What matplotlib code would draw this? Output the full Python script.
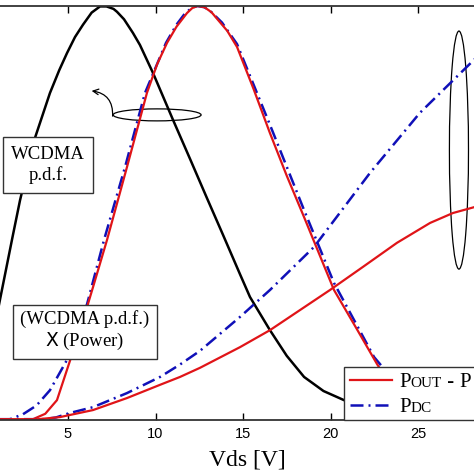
import matplotlib.pyplot as plt
from matplotlib.patches import Ellipse, Rectangle

# Datos (valores normalizados)
vds_wcdma = [0.6, 1.11, 1.83, 2.26, 3.11, 3.97, 4.5, 4.94, 5.4, 5.86, 6.35, 6.83, 7.2, 7.6, 7.8, 8.2, 8.71,
             9.11, 9.86, 11.0, 11.97, 12.94, 13.86, 14.83, 15.4, 16.54, 17.5, 18.49, 19.6, 20.77, 22.0, 23.5]
pdf_wcdma = [0.18, 0.29, 0.442, 0.531, 0.681, 0.79, 0.845, 0.886, 0.925, 0.955, 0.984, 0.999, 0.999, 0.993,
             0.986, 0.968, 0.935, 0.906, 0.838, 0.725, 0.631, 0.536, 0.447, 0.352, 0.297, 0.217, 0.155,
             0.104, 0.07, 0.048, 0.03, 0.02]

vds_pout_pdf = [1.0, 2.26, 3.0, 3.7, 4.37, 4.94, 5.69, 6.43, 7.23, 8.37, 9.51, 10.1, 10.66, 11.2, 11.8,
                12.1, 12.4, 12.8, 13.2, 13.6, 14.1, 14.66, 15.6, 16.54, 17.5, 18.49, 20.2, 21.5, 22.66,
                23.5, 24.5]
pout_pdf = [0.0, 0.0, 0.002, 0.015, 0.048, 0.121, 0.217, 0.321, 0.435, 0.611, 0.790, 0.86, 0.911, 0.95, 0.983,
            0.995, 1.0, 0.997, 0.985, 0.965, 0.94, 0.901, 0.80, 0.693, 0.59, 0.490, 0.314, 0.22, 0.135,
            0.08, 0.04]

vds_pdc_pdf = [1.0, 1.69, 2.43, 3.2, 3.97, 4.94, 6.09, 7.06, 8.26, 9.4, 10.6, 11.2, 11.7, 12.1, 12.4, 12.8,
               13.2, 13.8, 14.66, 16.54, 18.49, 20.2, 22.49, 22.83, 23.8, 24.8]
pdc_pdf = [0.0, 0.002, 0.014, 0.035, 0.072, 0.145, 0.280, 0.435, 0.611, 0.790, 0.911, 0.955, 0.983, 0.996,
           1.0, 0.997, 0.985, 0.96, 0.908, 0.713, 0.507, 0.331, 0.152, 0.135, 0.08, 0.04]

vds_pout = [0.5, 1.11, 3.3, 4.54, 6.43, 8.37, 10.26, 11.4, 12.54, 14.83, 16.54, 19.97, 21.86, 23.8,
            25.69, 27.0, 28.2, 30.0]
pout = [0.002, 0.002, 0.002, 0.007, 0.024, 0.053, 0.085, 0.104, 0.126, 0.176, 0.217, 0.314, 0.370,
        0.428, 0.476, 0.500, 0.514, 0.53]

vds_pdc = [0.5, 1.11, 3.6, 4.3, 5.11, 6.43, 8.37, 10.26, 11.4, 12.54, 14.83, 16.54, 19.06, 22.26,
           25.11, 28.2, 30.0]
pdc = [0.002, 0.002, 0.002, 0.006, 0.017, 0.031, 0.065, 0.104, 0.134, 0.167, 0.249, 0.314, 0.418,
       0.597, 0.742, 0.870, 0.94]

xticks = [5, 10, 15, 20, 25]

rojo = '#e01418'
azul = '#1010b8'
rayapunto = (5.2, 2, 0.8, 2)

fig = plt.figure(figsize=(4.74, 4.74), dpi=100)
ax = fig.add_axes([-19.5 / 474, 1 - 420 / 474, 525 / 474, 414 / 474])

ax.plot(vds_wcdma, pdf_wcdma, color='black', lw=1.8)
ax.plot(vds_pdc_pdf, pdc_pdf, color=azul, lw=1.8, dashes=rayapunto)
ax.plot(vds_pout_pdf, pout_pdf, color=rojo, lw=1.6)
ax.plot(vds_pdc, pdc, color=azul, lw=1.8, dashes=rayapunto)
ax.plot(vds_pout, pout, color=rojo, lw=1.6)

ax.set_xlim(0, 30)
ax.set_ylim(0, 1)
ax.set_xticks(xticks)
ax.set_yticks([])
ax.tick_params(axis='x', direction='in', top=True, length=5, width=1, pad=5, labelsize=10.5)
for lbl in ax.get_xticklabels():
    lbl.set_fontfamily('Liberation Sans')
for s in ['top', 'bottom']:
    ax.spines[s].set_linewidth(1.3)
    ax.spines[s].set_color('#333333')

ax.set_xlabel('Vds [V]', fontsize=17, family='Liberation Serif')
ax.xaxis.set_label_coords(0.508, -0.072)

# Elipses y flecha
ax.add_patch(Ellipse((10.09, 0.737), 5.03, 0.029, fill=False, lw=0.9, color='black'))
ax.add_patch(Ellipse((27.34, 0.652), 1.09, 0.575, fill=False, lw=0.9, color='black'))
ax.annotate('', xy=(6.35, 0.795), xytext=(7.55, 0.734),
            arrowprops=dict(arrowstyle='->', lw=0.9, color='black',
                            connectionstyle='arc3,rad=0.45', shrinkA=0, shrinkB=0))

# Cuadros de texto
ax.text(0.1286, 0.616, 'WCDMA\np.d.f.', transform=ax.transAxes, ha='center', va='center',
        fontsize=13.5, family='Liberation Serif', linespacing=1.25,
        bbox=dict(boxstyle='square,pad=0.45', fc='white', ec='#333333', lw=1))
ax.text(0.199, 0.215, '(WCDMA p.d.f.)\n$\\mathsf{X}$ (Power)', transform=ax.transAxes,
        ha='center', va='center', fontsize=13.5, family='Liberation Serif',
        linespacing=1.2, bbox=dict(boxstyle='square,pad=0.38', fc='white', ec='#333333', lw=1))

# Leyenda manual
ax.add_patch(Rectangle((0.6924, 0.0), 0.4, 0.128, transform=ax.transAxes, fc='white',
                       ec='#333333', lw=1, zorder=5, clip_on=False))
ax.plot([0.704, 0.784], [0.0966, 0.0966], transform=ax.transAxes, color=rojo, lw=1.6, zorder=6)
ax.plot([0.704, 0.784], [0.0362, 0.0362], transform=ax.transAxes, color=azul, lw=1.8,
        dashes=rayapunto, zorder=6)


def versalitas(x, y, partes):
    prev = None
    for txt, tam in partes:
        if prev is None:
            prev = ax.text(x, y, txt, transform=ax.transAxes, fontsize=tam,
                           family='Liberation Serif', va='baseline', zorder=7)
        else:
            prev = ax.annotate(txt, xy=(1, y), xycoords=(prev, ax.transAxes), fontsize=tam,
                               family='Liberation Serif', va='baseline', zorder=7)


versalitas(0.797, 0.08, [('P', 15), ('OUT', 11), (' - ', 15), ('P', 15)])
versalitas(0.797, 0.02, [('P', 15), ('DC', 11)])

plt.savefig('out.png', dpi=100)
